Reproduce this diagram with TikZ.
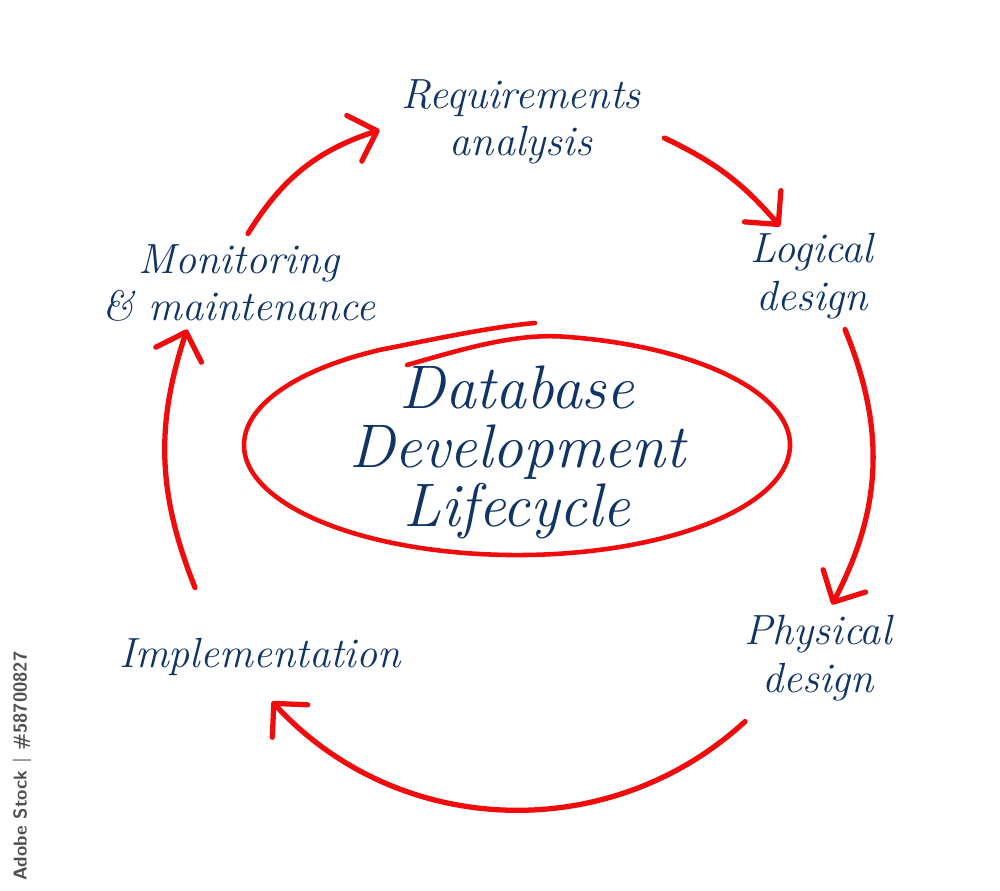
\documentclass[tikz,border=0pt]{standalone}
\usetikzlibrary{arrows.meta}

\definecolor{inkblue}{RGB}{16,52,102}
\definecolor{penred}{RGB}{240,12,12}
\definecolor{stockgray}{RGB}{80,80,80}

\tikzset{
    stage/.style={text=inkblue, align=center, inner sep=0pt, font=\fontsize{12}{13.6}\selectfont\itshape},
    title/.style={text=inkblue, align=center, inner sep=0pt, font=\fontsize{17.5}{16.8}\selectfont\itshape},
    cyc/.style={draw=penred, line width=1.5pt, line cap=round, -{Straight Barb[length=2.4mm, width=4.8mm, round]}},
    ring/.style={draw=penred, line width=1.3pt, line cap=round},
    stockmark/.style={text=stockgray, inner sep=0pt, font=\fontsize{5.3}{6}\selectfont\sffamily\bfseries}
}

\begin{document}
\begin{tikzpicture}
        \useasboundingbox[fill=white] (0,0) rectangle (10,-8.9);

        \node[stage] (req) at (5.21, -1.22) {Requirements\\analysis};
        \node[stage] (logi) at (8.12, -2.76) {Logical\\design};
        \node[stage] (phys) at (8.18, -6.58) {Physical\\design};
        \node[stage] (impl) at (2.60, -6.57) {Implementation};
        \node[stage] (mon) at (2.39, -2.83) {Monitoring\\\& maintenance};

        \node[title] (db) at (5.17, -4.52) {Database\\Development\\Lifecycle};

        \node[stockmark, rotate=90] (stock) at (0.22, -7.66) {Adobe Stock \textbar\ \#58700827};

        % hand drawn loop round the title
        \draw[ring] (4.07, -3.65) .. controls (4.6, -3.5) and (5.14, -3.33) .. (5.644, -3.367)
            arc[start angle=80, end angle=-240, x radius=2.73, y radius=1.10]
            .. controls (4.3, -3.40) and (4.9, -3.27) .. (5.35, -3.23);

        \draw[cyc] ([shift={(0.09, 0.10)}]mon.north) to[bend left=20] ([shift={(-0.21, -0.08)}]req.west);
        \draw[cyc] ([shift={(0.23, -0.16)}]req.east) to[bend left=12] ([shift={(-0.32, 0.06)}]logi.north);
        \draw[cyc] ([shift={(0.33, -0.10)}]logi.south) to[bend left=25] ([shift={(0.14, 0.10)}]phys.north);
        \draw[cyc] ([shift={(-0.73, -0.20)}]phys.south) to[bend left=45] ([shift={(0.12, -0.25)}]impl.south);
        \draw[cyc] ([shift={(-0.65, 0.50)}]impl.north) to[bend left=20] ([shift={(-0.52, -0.07)}]mon.south);
\end{tikzpicture}
\end{document}
